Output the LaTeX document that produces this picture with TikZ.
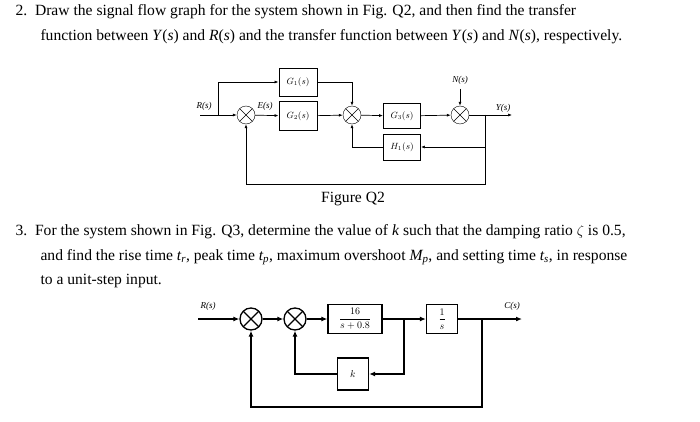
\documentclass[tikz,border=0pt]{standalone}
\usepackage{fontspec}
\setmainfont{Liberation Serif}
\usetikzlibrary{arrows.meta}
\begin{document}
\begin{tikzpicture}[x=1pt,y=-1pt,
  blk/.style={draw,line width=0.9pt,inner sep=0pt},
  sm/.style={draw,circle,minimum size=18pt,inner sep=0pt,path picture={\draw (path picture bounding box.north west)--(path picture bounding box.south east) (path picture bounding box.north east)--(path picture bounding box.south west);}},
  sm2/.style={sm,minimum size=22pt,line width=1.3pt},
  ln/.style={line width=0.7pt,-{Latex[length=4pt,width=3pt]}},
  tk/.style={line width=1.6pt,-{Latex[length=6pt,width=5pt]}},
  tx/.style={font=\fontsize{15.6}{18}\selectfont},
  sl/.style={font=\fontsize{9}{10}\selectfont\itshape},
  bl/.style={font=\fontsize{9}{10}\selectfont}]
\useasboundingbox (0,0) rectangle (700,422);
% Problem 2 text
\node[tx,anchor=west] (p2a) at (12,12) {2.\ \ Draw the signal flow graph for the system shown in Fig. Q2, and then find the transfer};
\node[tx,anchor=west] (p2b) at (37,37) {function between \textit{Y}(\textit{s}) and \textit{R}(\textit{s}) and the transfer function between \textit{Y}(\textit{s}) and \textit{N}(\textit{s}), respectively.};
% Diagram 1
\node[blk,bl,minimum width=38pt,minimum height=28pt] (g1) at (298,82) {$G_1(s)$};
\node[blk,bl,minimum width=38pt,minimum height=29pt] (g2) at (298,116) {$G_2(s)$};
\node[blk,bl,minimum width=37pt,minimum height=25pt] (g3) at (402,116) {$G_3(s)$};
\node[blk,bl,minimum width=37pt,minimum height=26pt] (h1) at (402,147) {$H_1(s)$};
\node[sm] (s1) at (246,115) {};
\node[sm] (s2) at (352,115) {};
\node[sm] (s3) at (460,115) {};
\node[sl] (lr) at (204,106) {R(s)};
\node[sl] (le) at (265,106) {E(s)};
\node[sl] (ln) at (460,80) {N(s)};
\node[sl] (ly) at (503,108) {Y(s)};
\coordinate (in1) at (200,115);
\coordinate (j1) at (218,115);
\coordinate (out1) at (512,115);
\coordinate (b1) at (485,115);
\coordinate (nt) at (460,89);
\draw[line width=0.7pt] (in1)--(j1);
\draw[ln] (j1)--(s1);
\draw[ln] (j1)|-(g1);
\draw[ln] (s1)--(g2);
\draw[ln] (g2)--(s2);
\draw[ln] (g1.east)-|(s2.north);
\draw[ln] (s2)--(g3);
\draw[ln] (g3)--(s3);
\draw[ln] (nt)--(s3);
\draw[ln] (s3)--(out1);
\draw[ln] (b1)|-(h1);
\draw[ln] (h1)-|(s2.south);
\draw[ln] (b1)--(485,184)-|(s1.south);
\node[tx] (fq2) at (353,199) {Figure Q2};
% Problem 3 text
\node[tx,anchor=west] (p3a) at (12,232) {3.\ \ For the system shown in Fig. Q3, determine the value of \textit{k} such that the damping ratio $\zeta$ is 0.5,};
\node[tx,anchor=west] (p3b) at (37,257) {and find the rise time \textit{t\textsubscript{r}}, peak time \textit{t\textsubscript{p}}, maximum overshoot \textit{M\textsubscript{p}}, and setting time \textit{t\textsubscript{s}}, in response};
\node[tx,anchor=west] (p3c) at (37,281) {to a unit-step input.};
% Diagram 2
\node[sm2] (t1) at (251,319) {};
\node[sm2] (t2) at (295,319) {};
\node[blk,line width=1.3pt,minimum width=54pt,minimum height=29pt,font=\fontsize{10}{11}\selectfont] (f1) at (355,319) {$\displaystyle\frac{16}{s+0.8}$};
\node[blk,line width=1.3pt,minimum width=31pt,minimum height=29pt,font=\fontsize{10}{11}\selectfont] (f2) at (442,319) {$\displaystyle\frac{1}{s}$};
\node[blk,line width=1.3pt,minimum width=31pt,minimum height=32pt,font=\fontsize{10}{11}\selectfont] (kb) at (353,374) {$k$};
\node[sl] (lr2) at (208,306) {R(s)};
\node[sl] (lc2) at (512,306) {C(s)};
\coordinate (in2) at (198,319);
\coordinate (b2) at (404,319);
\coordinate (b3) at (482,319);
\coordinate (out2) at (522,319);
\draw[tk] (in2)--(t1);
\draw[tk] (t1)--(t2);
\draw[tk] (t2)--(f1);
\draw[tk] (f1)--(f2);
\draw[tk] (f2)--(out2);
\draw[tk] (b2)|-(kb);
\draw[tk] (kb)-|(t2.south);
\draw[tk] (b3)--(482,407)-|(t1.south);
\end{tikzpicture}
\end{document}
